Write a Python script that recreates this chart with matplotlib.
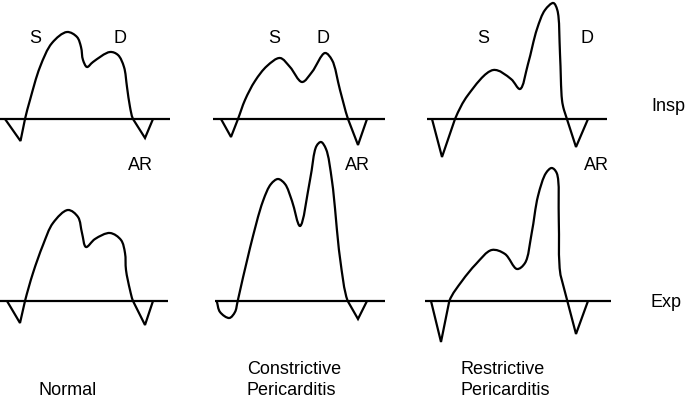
import numpy as np
import matplotlib
matplotlib.use("Agg")
import matplotlib.pyplot as plt
from matplotlib.path import Path
from matplotlib.patches import PathPatch

plt.rcParams['font.family'] = ['Liberation Sans', 'DejaVu Sans']

# ---- Data: pulmonary venous flow schematics (time, velocity relative to baseline) ----
columns = ["Normal", "Constrictive\nPericarditis", "Restrictive\nPericarditis"]
rows = ["Insp", "Exp"]

normal_insp_t = [5, 20.5, 25, 30, 40, 52, 67, 77, 81, 83, 87, 93, 110, 118, 124, 127, 130, 133, 145, 153]
normal_insp_v = [0, -22, 0, 19, 52, 76, 87, 82, 72, 59, 52, 57, 67, 64, 52, 32, 12, 0, -19, 0]

normal_exp_t = [7, 20, 25, 33, 43, 53, 68, 78, 82, 86, 95, 110, 121, 125, 126, 130, 133, 145, 153]
normal_exp_v = [0, -22, 0, 28, 56, 78, 91, 84, 68, 54, 62, 68, 61, 48, 31, 11, 0, -24, 0]

constr_insp_t = [221, 231, 238, 245, 255, 267, 280, 290, 302, 312, 325, 332, 340, 348, 358, 367]
constr_insp_v = [0, -18, 0, 19, 38, 53, 61, 52, 37, 47, 66, 59, 29, 0, -26, 0]

constr_exp_t = [216.7, 220, 229.3, 235, 237.7, 250, 263, 271, 278, 285, 292, 300, 310, 316.5, 321, 326,
                332, 340, 347.7, 358, 367]
constr_exp_v = [0, -11, -17, -11, 0, 53, 100, 117, 122, 117, 100, 75, 121, 155, 159, 152,
                120, 43, 0, -18, 0]

restr_insp_t = [432, 442, 455, 468, 493.3, 511, 520, 528, 537, 545, 553.3, 557.3, 560, 562, 564, 576, 588]
restr_insp_v = [0, -38, 0, 24, 49, 40, 30, 55, 90, 109, 116, 109, 65, 19, 9, -28, 0]

restr_exp_t = [431, 441, 449.3, 462, 476, 491.7, 505, 517, 525, 531.7, 538, 546, 551.7, 556.7, 558.8, 560.5,
               576, 588]
restr_exp_v = [0, -41, 0, 20, 37, 51, 47, 32, 38, 68, 105, 128, 133, 128, 80, 26, -33, 0]

# indices of segments drawn as straight lines (the V-shaped reversal waves)
series = {
    ("Normal", "Insp"): (normal_insp_t, normal_insp_v, (0, 1, 17, 18)),
    ("Normal", "Exp"): (normal_exp_t, normal_exp_v, (0, 1, 16, 17)),
    ("Constrictive\nPericarditis", "Insp"): (constr_insp_t, constr_insp_v, (0, 1, 13, 14)),
    ("Constrictive\nPericarditis", "Exp"): (constr_exp_t, constr_exp_v, (18, 19)),
    ("Restrictive\nPericarditis", "Insp"): (restr_insp_t, restr_insp_v, (0, 1, 14, 15)),
    ("Restrictive\nPericarditis", "Exp"): (restr_exp_t, restr_exp_v, (0, 1, 15, 16)),
}

wave_labels = {
    "Normal": [("S", 35), ("D", 120)],
    "Constrictive\nPericarditis": [("S", 274), ("D", 323.5)],
    "Restrictive\nPericarditis": [("S", 483.5), ("D", 587)],
}
ar_label_x = {"Normal": 140, "Constrictive\nPericarditis": 357.5, "Restrictive\nPericarditis": 596.5}

# ---- Layout (pixels) ----
baseline_y = {"Insp": 119, "Exp": 301}
baseline_span = {
    ("Normal", "Insp"): (0, 170), ("Normal", "Exp"): (0, 168),
    ("Constrictive\nPericarditis", "Insp"): (213, 385),
    ("Constrictive\nPericarditis", "Exp"): (215, 385),
    ("Restrictive\nPericarditis", "Insp"): (427, 607),
    ("Restrictive\nPericarditis", "Exp"): (425, 611),
}
col_label_x = {"Normal": 68, "Constrictive\nPericarditis": 247, "Restrictive\nPericarditis": 461}
LW = 1.6
FS = 13


def smooth_path(xs, ys, line_segs, alpha=0.5):
    """Centripetal Catmull-Rom through the points, drawn as cubic Bezier.
    Segments whose start index is in line_segs are straight lines."""
    P = np.column_stack([xs, ys]).astype(float)
    n = len(P)
    verts = [P[0]]
    codes = [Path.MOVETO]
    for i in range(n - 1):
        if i in line_segs:
            verts.append(P[i + 1]); codes.append(Path.LINETO)
            continue
        p1, p2 = P[i], P[i + 1]
        p0 = P[i - 1] if i > 0 else 2 * p1 - p2
        p3 = P[i + 2] if i + 2 < n else 2 * p2 - p1
        d0 = max(np.linalg.norm(p1 - p0) ** alpha, 1e-6)
        d1 = max(np.linalg.norm(p2 - p1) ** alpha, 1e-6)
        d2 = max(np.linalg.norm(p3 - p2) ** alpha, 1e-6)
        t1 = (p1 - p0) / d0 - (p2 - p0) / (d0 + d1) + (p2 - p1) / d1
        t2 = (p2 - p1) / d1 - (p3 - p1) / (d1 + d2) + (p3 - p2) / d2
        c1 = p1 + t1 * d1 / 3.0
        c2 = p2 - t2 * d1 / 3.0
        verts += [c1, c2, p2]
        codes += [Path.CURVE4] * 3
    return Path(verts, codes)


fig = plt.figure(figsize=(6.85, 4.00), dpi=100)
ax = fig.add_axes([0, 0, 1, 1])
ax.set_xlim(0, 685)
ax.set_ylim(400, 0)
ax.axis("off")

for (col, row), (t, v, lines) in series.items():
    y0 = baseline_y[row]
    x1, x2 = baseline_span[(col, row)]
    ax.plot([x1, x2], [y0, y0], color="black", lw=LW, solid_capstyle="butt")
    ys = [y0 - val for val in v]
    path = smooth_path(t, ys, set(lines))
    ax.add_patch(PathPatch(path, facecolor="none", edgecolor="black", lw=LW,
                           joinstyle="miter", capstyle="butt"))

for col in columns:
    for lab, x in wave_labels[col]:
        ax.text(x, 43, lab, fontsize=FS, ha="center", va="baseline")
    ax.text(ar_label_x[col], 170, "AR", fontsize=FS, ha="center", va="baseline")

ax.text(651, 111, "Insp", fontsize=FS, ha="left", va="baseline")
ax.text(651, 307, "Exp", fontsize=FS, ha="left", va="baseline")

ax.text(col_label_x["Normal"], 395, "Normal", fontsize=FS, ha="center", va="baseline")
for col in columns[1:]:
    l1, l2 = col.split("\n")
    ax.text(col_label_x[col], 374, l1, fontsize=FS, ha="left", va="baseline")
    ax.text(col_label_x[col], 395, l2, fontsize=FS, ha="left", va="baseline")

fig.savefig("out.png", dpi=100, facecolor="white")
